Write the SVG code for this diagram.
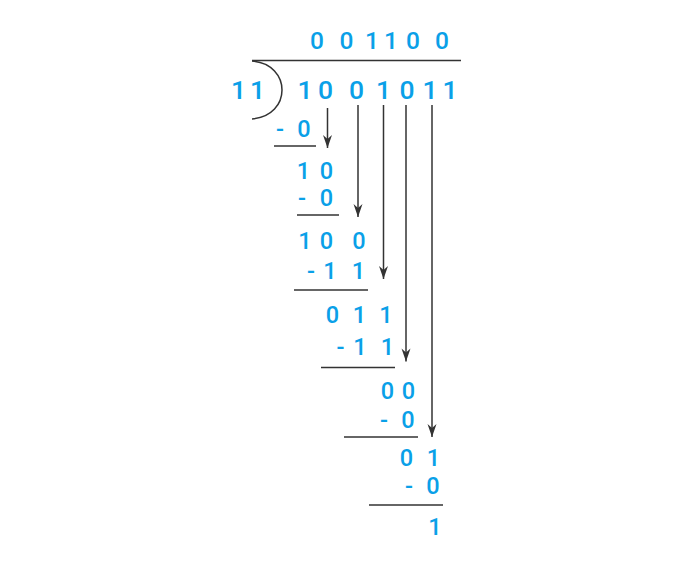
<svg xmlns="http://www.w3.org/2000/svg" width="695" height="567" viewBox="0 0 695 567">
<defs>
<style>
.d{font-family:Roboto,"Liberation Sans",sans-serif;font-weight:500;fill:#0aa0e8;text-anchor:middle;font-size:23.5px}
.q{font-size:24.5px}
.big{font-size:26.5px}
.ln{stroke:#333;stroke-width:1.5;fill:none}
.ar{stroke:#333;stroke-width:1.5;fill:none;marker-end:url(#ah)}
</style>
<marker id="ah" markerUnits="userSpaceOnUse" viewBox="-14 -5 15 10" refX="0" refY="0" markerWidth="15" markerHeight="10" orient="auto">
<path d="M0,0 L-13,-4.5 L-9,0 L-13,4.5 Z" fill="#333"/>
</marker>
</defs>
<rect width="695" height="567" fill="#fff"/>
<g id="quotient">
<text class="d q" y="49"><tspan x="317">0</tspan><tspan x="346.5">0</tspan><tspan x="372">1</tspan><tspan x="391">1</tspan><tspan x="413">0</tspan><tspan x="442">0</tspan></text>
</g>
<g id="divisor">
<text class="d big" y="99"><tspan x="238.5">1</tspan><tspan x="257.5">1</tspan></text>
<path class="ln" d="M252,61 C292,64 292,116 252,119"/>
</g>
<g id="dividend">
<text class="d big" y="99"><tspan x="305">1</tspan><tspan x="325.5">0</tspan><tspan x="356.5">0</tspan><tspan x="383.5">1</tspan><tspan x="407">0</tspan><tspan x="430">1</tspan><tspan x="450">1</tspan></text>
<line class="ln" x1="252" y1="60.5" x2="461" y2="60.5"/>
</g>
<g id="step1">
<text class="d" y="137"><tspan x="280">-</tspan><tspan x="304">0</tspan></text>
<line class="ln" x1="274" y1="146" x2="316" y2="146"/>
</g>
<g id="step2">
<text class="d" y="178.5"><tspan x="303.5">1</tspan><tspan x="326.5">0</tspan></text>
<text class="d" y="205.5"><tspan x="302">-</tspan><tspan x="326.5">0</tspan></text>
<line class="ln" x1="297" y1="215" x2="339" y2="215"/>
</g>
<g id="step3">
<text class="d" y="248.5"><tspan x="305">1</tspan><tspan x="326.5">0</tspan><tspan x="359">0</tspan></text>
<text class="d" y="278.5"><tspan x="311">-</tspan><tspan x="330">1</tspan><tspan x="358.5">1</tspan></text>
<line class="ln" x1="294" y1="290" x2="368" y2="290"/>
</g>
<g id="step4">
<text class="d" y="322.5"><tspan x="332.5">0</tspan><tspan x="359.5">1</tspan><tspan x="386">1</tspan></text>
<text class="d" y="355"><tspan x="340.5">-</tspan><tspan x="360">1</tspan><tspan x="387.5">1</tspan></text>
<line class="ln" x1="321" y1="367.5" x2="395" y2="367.5"/>
</g>
<g id="step5">
<text class="d" y="399"><tspan x="387.5">0</tspan><tspan x="408.5">0</tspan></text>
<text class="d" y="427.5"><tspan x="384">-</tspan><tspan x="408">0</tspan></text>
<line class="ln" x1="344" y1="437" x2="418" y2="437"/>
</g>
<g id="step6">
<text class="d" y="466"><tspan x="406.5">0</tspan><tspan x="433.5">1</tspan></text>
<text class="d" y="494"><tspan x="409">-</tspan><tspan x="433">0</tspan></text>
<line class="ln" x1="369" y1="505" x2="443" y2="505"/>
</g>
<g id="remainder">
<text class="d" y="535"><tspan x="435">1</tspan></text>
</g>
<g id="connectors">
<line class="ar" x1="327.5" y1="108" x2="327.5" y2="148"/>
<line class="ar" x1="358" y1="105" x2="358" y2="217"/>
<line class="ar" x1="383.5" y1="105" x2="383.5" y2="279"/>
<line class="ar" x1="406" y1="105" x2="406" y2="361.5"/>
<line class="ar" x1="432" y1="105" x2="432" y2="437"/>
</g>
</svg>
